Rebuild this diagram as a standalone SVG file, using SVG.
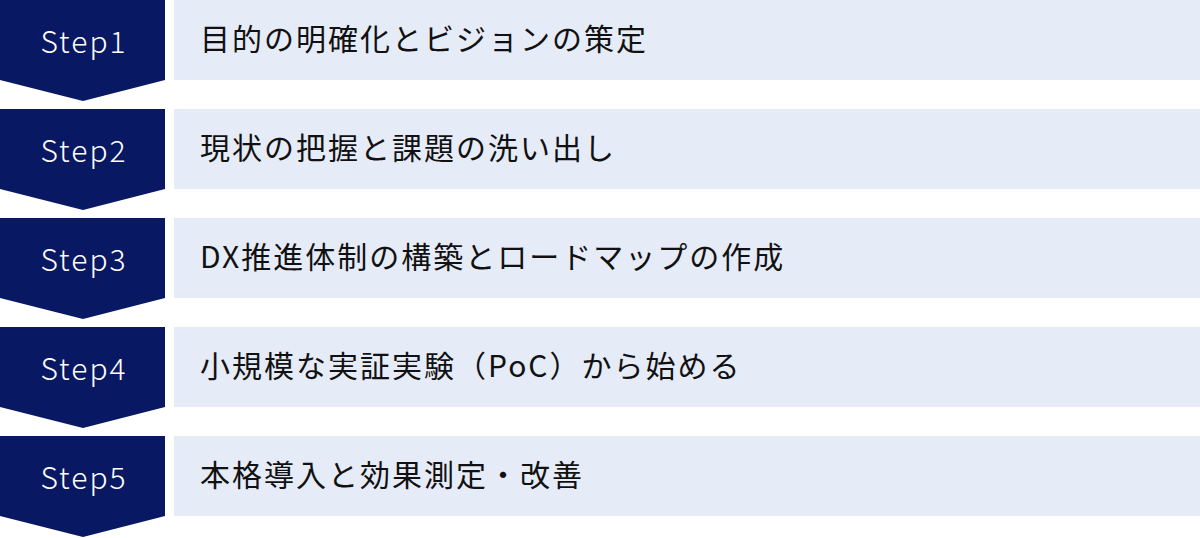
<svg xmlns="http://www.w3.org/2000/svg" width="1200" height="538" viewBox="0 0 1200 538">
<style>
.chev{fill:#081862}
.box{fill:#e6ebf8}
.step{font-family:"Noto Sans CJK JP","Noto Sans",sans-serif;font-size:30px;font-weight:300;fill:#ffffff;text-anchor:middle;letter-spacing:2px}
.lbl{font-family:"Noto Sans CJK JP","Noto Sans",sans-serif;font-size:30px;fill:#111111;letter-spacing:2px}
</style>
<defs>
<polygon id="chevShape" points="0,0 165,0 165,80 83,101 0,80"/>
</defs>
<rect width="1200" height="538" fill="#ffffff"/>
<g id="connectors"></g>
<g id="step1">
<use href="#chevShape" class="chev"/>
<rect class="box" x="174" y="0" width="1026" height="80"/>
<text class="step" x="84" y="53">Step1</text>
<text class="lbl" x="200" y="50">目的の明確化とビジョンの策定</text>
</g>
<g id="step2" transform="translate(0,109)">
<use href="#chevShape" class="chev"/>
<rect class="box" x="174" y="0" width="1026" height="80"/>
<text class="step" x="84" y="53">Step2</text>
<text class="lbl" x="200" y="50">現状の把握と課題の洗い出し</text>
</g>
<g id="step3" transform="translate(0,218)">
<use href="#chevShape" class="chev"/>
<rect class="box" x="174" y="0" width="1026" height="80"/>
<text class="step" x="84" y="53">Step3</text>
<text class="lbl" x="200" y="50">DX推進体制の構築とロードマップの作成</text>
</g>
<g id="step4" transform="translate(0,327)">
<use href="#chevShape" class="chev"/>
<rect class="box" x="174" y="0" width="1026" height="80"/>
<text class="step" x="84" y="53">Step4</text>
<text class="lbl" x="200" y="50">小規模な実証実験（PoC）から始める</text>
</g>
<g id="step5" transform="translate(0,436)">
<use href="#chevShape" class="chev"/>
<rect class="box" x="174" y="0" width="1026" height="80"/>
<text class="step" x="84" y="53">Step5</text>
<text class="lbl" x="200" y="50">本格導入と効果測定・改善</text>
</g>
</svg>
